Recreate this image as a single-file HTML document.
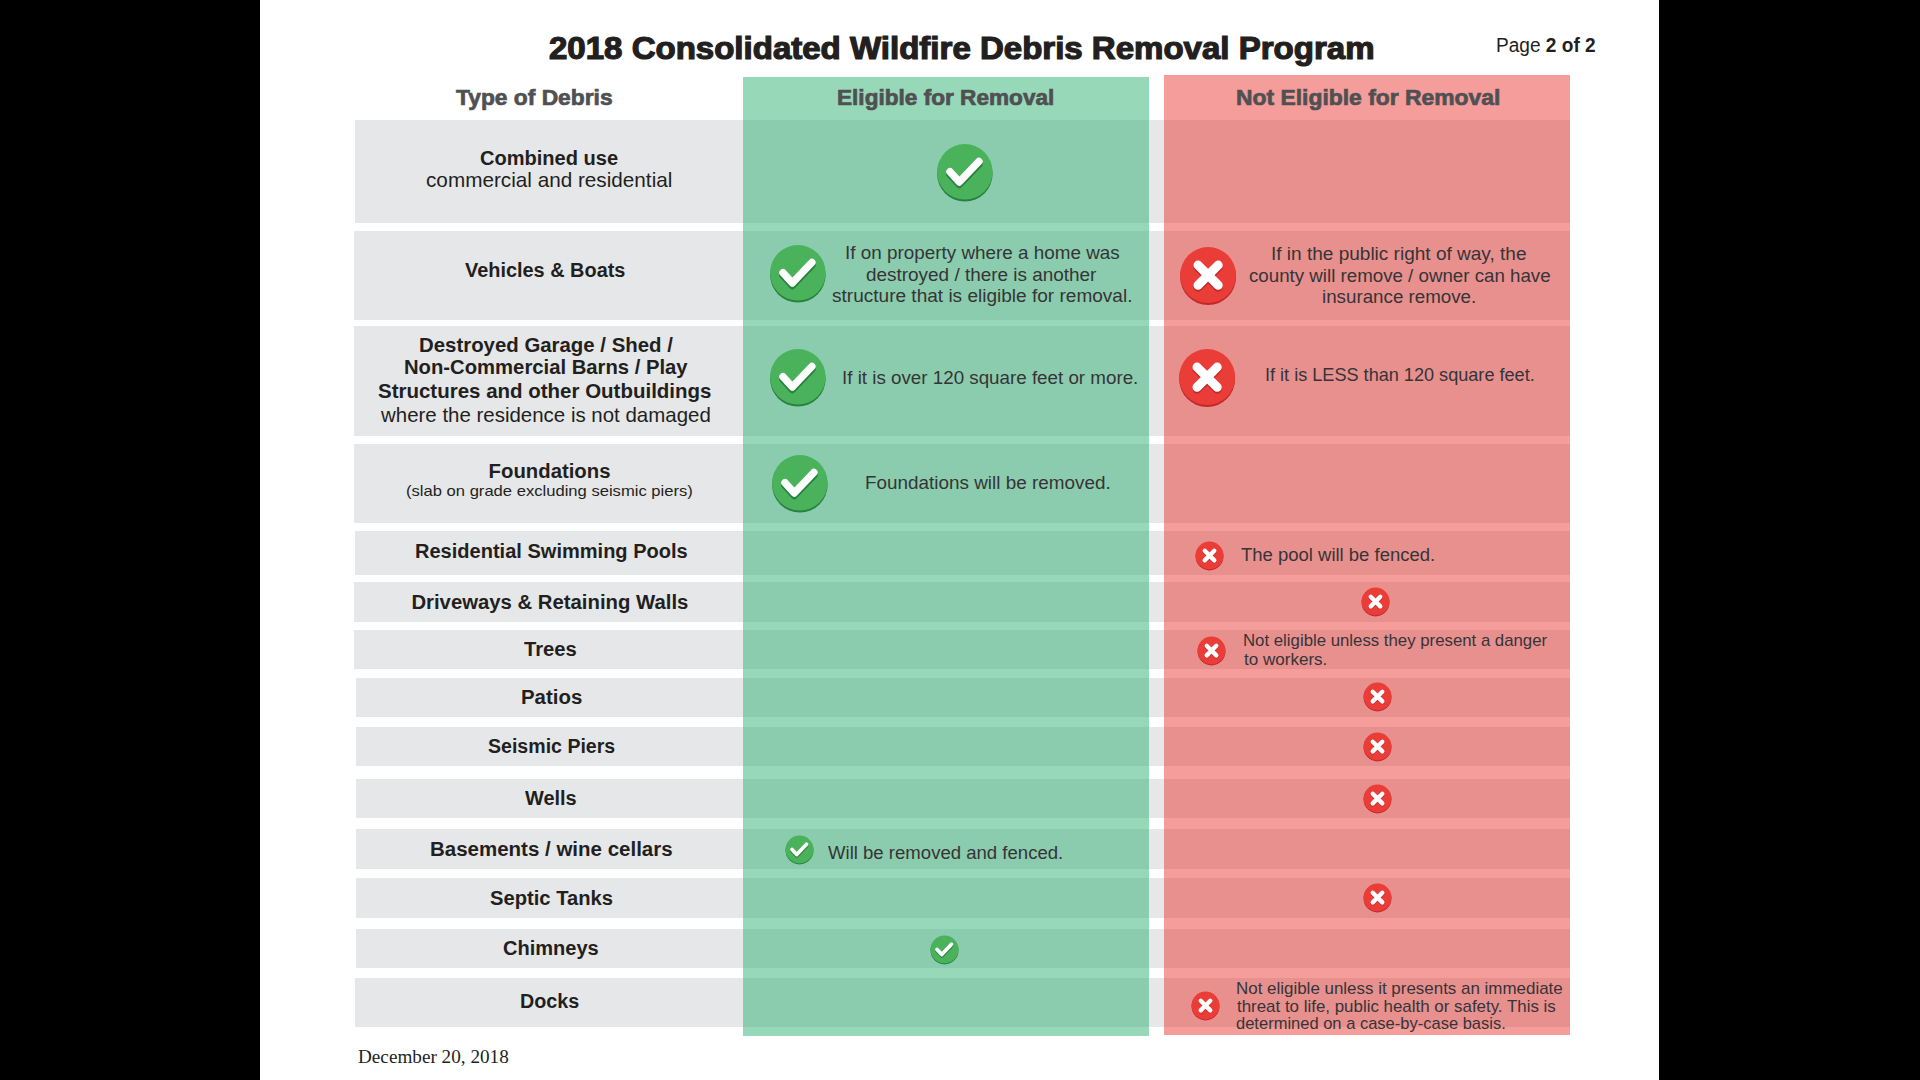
<!DOCTYPE html>
<html><head><meta charset="utf-8"><title>2018 Consolidated Wildfire Debris Removal Program</title>
<style>
html,body{margin:0;padding:0;width:1920px;height:1080px;overflow:hidden;background:#000;}
.t{position:absolute;white-space:nowrap;line-height:0;transform-origin:0 0;}

</style></head><body>
<div style="position:absolute;left:260px;top:0;width:1399px;height:1080px;background:#fff"></div>
<div style="position:absolute;left:355px;top:120px;width:1215px;height:103.00px;background:#e6e7e8"></div>
<div style="position:absolute;left:353.5px;top:231px;width:1216.5px;height:89.00px;background:#e6e7e8"></div>
<div style="position:absolute;left:353.5px;top:325.5px;width:1216.5px;height:110.00px;background:#e6e7e8"></div>
<div style="position:absolute;left:353.5px;top:444px;width:1216.5px;height:79.00px;background:#e6e7e8"></div>
<div style="position:absolute;left:355px;top:531px;width:1215px;height:44.00px;background:#e6e7e8"></div>
<div style="position:absolute;left:353.5px;top:582px;width:1216.5px;height:39.50px;background:#e6e7e8"></div>
<div style="position:absolute;left:353.5px;top:629.5px;width:1216.5px;height:39.80px;background:#e6e7e8"></div>
<div style="position:absolute;left:356px;top:677.5px;width:1214px;height:39.50px;background:#e6e7e8"></div>
<div style="position:absolute;left:356px;top:726.7px;width:1214px;height:39.50px;background:#e6e7e8"></div>
<div style="position:absolute;left:356px;top:778.5px;width:1214px;height:39.50px;background:#e6e7e8"></div>
<div style="position:absolute;left:356px;top:829px;width:1214px;height:39.50px;background:#e6e7e8"></div>
<div style="position:absolute;left:356px;top:878px;width:1214px;height:40.00px;background:#e6e7e8"></div>
<div style="position:absolute;left:356px;top:928.7px;width:1214px;height:39.30px;background:#e6e7e8"></div>
<div style="position:absolute;left:355px;top:978px;width:1215px;height:49.00px;background:#e6e7e8"></div>
<div style="position:absolute;left:743px;top:77px;width:406px;height:959px;background:rgba(51,179,117,0.514)"></div>
<div style="position:absolute;left:1164px;top:74.5px;width:406px;height:960px;background:rgba(234,51,43,0.48)"></div>
<svg style="position:absolute;left:935.54px;top:142.54px" width="57.72" height="59.94" viewBox="-52 -52 104 108"><circle cx="0" cy="3.5" r="50" fill="#27823f"/><circle cx="0" cy="0" r="50" fill="#49b25a"/><path d="M-26.8 -0.4 L-10 18.2 L25.2 -18.6" fill="none" stroke="#27823f" stroke-width="13.4" stroke-linecap="round" stroke-linejoin="round" transform="translate(0,4.6)"/><path d="M-26.8 -0.4 L-10 18.2 L25.2 -18.6" fill="none" stroke="#fff" stroke-width="13.4" stroke-linecap="round" stroke-linejoin="round"/></svg>
<svg style="position:absolute;left:769.44px;top:244.34px" width="57.72" height="59.94" viewBox="-52 -52 104 108"><circle cx="0" cy="3.5" r="50" fill="#27823f"/><circle cx="0" cy="0" r="50" fill="#49b25a"/><path d="M-26.8 -0.4 L-10 18.2 L25.2 -18.6" fill="none" stroke="#27823f" stroke-width="13.4" stroke-linecap="round" stroke-linejoin="round" transform="translate(0,4.6)"/><path d="M-26.8 -0.4 L-10 18.2 L25.2 -18.6" fill="none" stroke="#fff" stroke-width="13.4" stroke-linecap="round" stroke-linejoin="round"/></svg>
<svg style="position:absolute;left:769.44px;top:348.14px" width="57.72" height="59.94" viewBox="-52 -52 104 108"><circle cx="0" cy="3.5" r="50" fill="#27823f"/><circle cx="0" cy="0" r="50" fill="#49b25a"/><path d="M-26.8 -0.4 L-10 18.2 L25.2 -18.6" fill="none" stroke="#27823f" stroke-width="13.4" stroke-linecap="round" stroke-linejoin="round" transform="translate(0,4.6)"/><path d="M-26.8 -0.4 L-10 18.2 L25.2 -18.6" fill="none" stroke="#fff" stroke-width="13.4" stroke-linecap="round" stroke-linejoin="round"/></svg>
<svg style="position:absolute;left:770.74px;top:453.84px" width="57.72" height="59.94" viewBox="-52 -52 104 108"><circle cx="0" cy="3.5" r="50" fill="#27823f"/><circle cx="0" cy="0" r="50" fill="#49b25a"/><path d="M-26.8 -0.4 L-10 18.2 L25.2 -18.6" fill="none" stroke="#27823f" stroke-width="13.4" stroke-linecap="round" stroke-linejoin="round" transform="translate(0,4.6)"/><path d="M-26.8 -0.4 L-10 18.2 L25.2 -18.6" fill="none" stroke="#fff" stroke-width="13.4" stroke-linecap="round" stroke-linejoin="round"/></svg>
<svg style="position:absolute;left:1178.58px;top:246.08px" width="58.24" height="60.48" viewBox="-52 -52 104 108"><circle cx="0" cy="3.5" r="50" fill="#c2272b"/><circle cx="0" cy="0" r="50" fill="#ea3d38"/><path d="M-18.0 -17.8 L18.0 18.2 M18.0 -17.8 L-18.0 18.2" fill="none" stroke="#c2272b" stroke-width="16.2" stroke-linecap="round" transform="translate(0,3.2)"/><path d="M-18.0 -17.8 L18.0 18.2 M18.0 -17.8 L-18.0 18.2" fill="none" stroke="#fff" stroke-width="16.2" stroke-linecap="round"/></svg>
<svg style="position:absolute;left:1178.38px;top:347.68px" width="58.24" height="60.48" viewBox="-52 -52 104 108"><circle cx="0" cy="3.5" r="50" fill="#c2272b"/><circle cx="0" cy="0" r="50" fill="#ea3d38"/><path d="M-18.0 -17.8 L18.0 18.2 M18.0 -17.8 L-18.0 18.2" fill="none" stroke="#c2272b" stroke-width="16.2" stroke-linecap="round" transform="translate(0,3.2)"/><path d="M-18.0 -17.8 L18.0 18.2 M18.0 -17.8 L-18.0 18.2" fill="none" stroke="#fff" stroke-width="16.2" stroke-linecap="round"/></svg>
<svg style="position:absolute;left:1195.09px;top:541.39px" width="29.02" height="30.13" viewBox="-52 -52 104 108"><circle cx="0" cy="3.5" r="50" fill="#c2272b"/><circle cx="0" cy="0" r="50" fill="#ea3d38"/><path d="M-17.2 -17.0 L17.2 17.4 M17.2 -17.0 L-17.2 17.4" fill="none" stroke="#c2272b" stroke-width="15.5" stroke-linecap="round" transform="translate(0,3.2)"/><path d="M-17.2 -17.0 L17.2 17.4 M17.2 -17.0 L-17.2 17.4" fill="none" stroke="#fff" stroke-width="15.5" stroke-linecap="round"/></svg>
<svg style="position:absolute;left:1361.49px;top:587.24px" width="29.02" height="30.13" viewBox="-52 -52 104 108"><circle cx="0" cy="3.5" r="50" fill="#c2272b"/><circle cx="0" cy="0" r="50" fill="#ea3d38"/><path d="M-17.2 -17.0 L17.2 17.4 M17.2 -17.0 L-17.2 17.4" fill="none" stroke="#c2272b" stroke-width="15.5" stroke-linecap="round" transform="translate(0,3.2)"/><path d="M-17.2 -17.0 L17.2 17.4 M17.2 -17.0 L-17.2 17.4" fill="none" stroke="#fff" stroke-width="15.5" stroke-linecap="round"/></svg>
<svg style="position:absolute;left:1197.29px;top:635.89px" width="29.02" height="30.13" viewBox="-52 -52 104 108"><circle cx="0" cy="3.5" r="50" fill="#c2272b"/><circle cx="0" cy="0" r="50" fill="#ea3d38"/><path d="M-17.2 -17.0 L17.2 17.4 M17.2 -17.0 L-17.2 17.4" fill="none" stroke="#c2272b" stroke-width="15.5" stroke-linecap="round" transform="translate(0,3.2)"/><path d="M-17.2 -17.0 L17.2 17.4 M17.2 -17.0 L-17.2 17.4" fill="none" stroke="#fff" stroke-width="15.5" stroke-linecap="round"/></svg>
<svg style="position:absolute;left:1363.14px;top:681.94px" width="29.02" height="30.13" viewBox="-52 -52 104 108"><circle cx="0" cy="3.5" r="50" fill="#c2272b"/><circle cx="0" cy="0" r="50" fill="#ea3d38"/><path d="M-17.2 -17.0 L17.2 17.4 M17.2 -17.0 L-17.2 17.4" fill="none" stroke="#c2272b" stroke-width="15.5" stroke-linecap="round" transform="translate(0,3.2)"/><path d="M-17.2 -17.0 L17.2 17.4 M17.2 -17.0 L-17.2 17.4" fill="none" stroke="#fff" stroke-width="15.5" stroke-linecap="round"/></svg>
<svg style="position:absolute;left:1363.49px;top:731.64px" width="29.02" height="30.13" viewBox="-52 -52 104 108"><circle cx="0" cy="3.5" r="50" fill="#c2272b"/><circle cx="0" cy="0" r="50" fill="#ea3d38"/><path d="M-17.2 -17.0 L17.2 17.4 M17.2 -17.0 L-17.2 17.4" fill="none" stroke="#c2272b" stroke-width="15.5" stroke-linecap="round" transform="translate(0,3.2)"/><path d="M-17.2 -17.0 L17.2 17.4 M17.2 -17.0 L-17.2 17.4" fill="none" stroke="#fff" stroke-width="15.5" stroke-linecap="round"/></svg>
<svg style="position:absolute;left:1362.89px;top:783.54px" width="29.02" height="30.13" viewBox="-52 -52 104 108"><circle cx="0" cy="3.5" r="50" fill="#c2272b"/><circle cx="0" cy="0" r="50" fill="#ea3d38"/><path d="M-17.2 -17.0 L17.2 17.4 M17.2 -17.0 L-17.2 17.4" fill="none" stroke="#c2272b" stroke-width="15.5" stroke-linecap="round" transform="translate(0,3.2)"/><path d="M-17.2 -17.0 L17.2 17.4 M17.2 -17.0 L-17.2 17.4" fill="none" stroke="#fff" stroke-width="15.5" stroke-linecap="round"/></svg>
<svg style="position:absolute;left:1363.29px;top:883.04px" width="29.02" height="30.13" viewBox="-52 -52 104 108"><circle cx="0" cy="3.5" r="50" fill="#c2272b"/><circle cx="0" cy="0" r="50" fill="#ea3d38"/><path d="M-17.2 -17.0 L17.2 17.4 M17.2 -17.0 L-17.2 17.4" fill="none" stroke="#c2272b" stroke-width="15.5" stroke-linecap="round" transform="translate(0,3.2)"/><path d="M-17.2 -17.0 L17.2 17.4 M17.2 -17.0 L-17.2 17.4" fill="none" stroke="#fff" stroke-width="15.5" stroke-linecap="round"/></svg>
<svg style="position:absolute;left:1190.89px;top:991.34px" width="29.02" height="30.13" viewBox="-52 -52 104 108"><circle cx="0" cy="3.5" r="50" fill="#c2272b"/><circle cx="0" cy="0" r="50" fill="#ea3d38"/><path d="M-17.2 -17.0 L17.2 17.4 M17.2 -17.0 L-17.2 17.4" fill="none" stroke="#c2272b" stroke-width="15.5" stroke-linecap="round" transform="translate(0,3.2)"/><path d="M-17.2 -17.0 L17.2 17.4 M17.2 -17.0 L-17.2 17.4" fill="none" stroke="#fff" stroke-width="15.5" stroke-linecap="round"/></svg>
<svg style="position:absolute;left:784.79px;top:834.99px" width="29.02" height="30.13" viewBox="-52 -52 104 108"><circle cx="0" cy="3.5" r="50" fill="#27823f"/><circle cx="0" cy="0" r="50" fill="#49b25a"/><path d="M-26.8 -0.4 L-10 18.2 L25.2 -18.6" fill="none" stroke="#27823f" stroke-width="13.4" stroke-linecap="round" stroke-linejoin="round" transform="translate(0,4.6)"/><path d="M-26.8 -0.4 L-10 18.2 L25.2 -18.6" fill="none" stroke="#fff" stroke-width="13.4" stroke-linecap="round" stroke-linejoin="round"/></svg>
<svg style="position:absolute;left:929.59px;top:934.59px" width="29.02" height="30.13" viewBox="-52 -52 104 108"><circle cx="0" cy="3.5" r="50" fill="#27823f"/><circle cx="0" cy="0" r="50" fill="#49b25a"/><path d="M-26.8 -0.4 L-10 18.2 L25.2 -18.6" fill="none" stroke="#27823f" stroke-width="13.4" stroke-linecap="round" stroke-linejoin="round" transform="translate(0,4.6)"/><path d="M-26.8 -0.4 L-10 18.2 L25.2 -18.6" fill="none" stroke="#fff" stroke-width="13.4" stroke-linecap="round" stroke-linejoin="round"/></svg>
<div class="t" style="left:548.80px;top:49.00px;font-size:30.87px;font-family:'Liberation Sans';font-weight:bold;color:#231f20;-webkit-text-stroke:1.2px #231f20;transform:scaleX(1.0701)">2018 Consolidated Wildfire Debris Removal Program</div>
<div class="t" style="left:456.00px;top:98.00px;font-size:21.96px;font-family:'Liberation Sans';font-weight:bold;color:#505053;-webkit-text-stroke:0.7px #505053;transform:scaleX(1.0380)">Type of Debris</div>
<div class="t" style="left:836.80px;top:98.00px;font-size:21.96px;font-family:'Liberation Sans';font-weight:bold;color:#505053;-webkit-text-stroke:0.7px #505053;transform:scaleX(1.0297)">Eligible for Removal</div>
<div class="t" style="left:1235.60px;top:98.00px;font-size:21.96px;font-family:'Liberation Sans';font-weight:bold;color:#505053;-webkit-text-stroke:0.7px #505053;transform:scaleX(1.0418)">Not Eligible for Removal</div>
<div class="t" style="left:480.30px;top:158.00px;font-size:20.32px;font-family:'Liberation Sans';font-weight:bold;color:#231f20;transform:scaleX(0.9870)">Combined use</div>
<div class="t" style="left:426.20px;top:180.00px;font-size:20.23px;font-family:'Liberation Sans';font-weight:normal;color:#231f20;transform:scaleX(1.0244)">commercial and residential</div>
<div class="t" style="left:465.00px;top:270.00px;font-size:20.32px;font-family:'Liberation Sans';font-weight:bold;color:#231f20;transform:scaleX(0.9798)">Vehicles &amp; Boats</div>
<div class="t" style="left:418.60px;top:345.00px;font-size:19.47px;font-family:'Liberation Sans';font-weight:bold;color:#231f20;transform:scaleX(1.0481)">Destroyed Garage / Shed /</div>
<div class="t" style="left:403.60px;top:367.00px;font-size:19.47px;font-family:'Liberation Sans';font-weight:bold;color:#231f20;transform:scaleX(1.0410)">Non-Commercial Barns / Play</div>
<div class="t" style="left:378.30px;top:391.00px;font-size:19.47px;font-family:'Liberation Sans';font-weight:bold;color:#231f20;transform:scaleX(1.0530)">Structures and other Outbuildings</div>
<div class="t" style="left:381.20px;top:415.00px;font-size:20.23px;font-family:'Liberation Sans';font-weight:normal;color:#231f20;transform:scaleX(1.0117)">where the residence is not damaged</div>
<div class="t" style="left:488.60px;top:471.00px;font-size:20.32px;font-family:'Liberation Sans';font-weight:bold;color:#231f20;transform:scaleX(1.0000)">Foundations</div>
<div class="t" style="left:405.80px;top:491.00px;font-size:14.3px;font-family:'Liberation Sans';font-weight:normal;color:#231f20;transform:scaleX(1.1604)">(slab on grade excluding seismic piers)</div>
<div class="t" style="left:414.50px;top:551.00px;font-size:20.32px;font-family:'Liberation Sans';font-weight:bold;color:#231f20;transform:scaleX(0.9862)">Residential Swimming Pools</div>
<div class="t" style="left:411.40px;top:602.00px;font-size:20.32px;font-family:'Liberation Sans';font-weight:bold;color:#231f20;transform:scaleX(1.0000)">Driveways &amp; Retaining Walls</div>
<div class="t" style="left:523.60px;top:649.00px;font-size:20.32px;font-family:'Liberation Sans';font-weight:bold;color:#231f20;transform:scaleX(0.9942)">Trees</div>
<div class="t" style="left:520.60px;top:697.00px;font-size:20.32px;font-family:'Liberation Sans';font-weight:bold;color:#231f20;transform:scaleX(1.0051)">Patios</div>
<div class="t" style="left:487.70px;top:746.00px;font-size:20.32px;font-family:'Liberation Sans';font-weight:bold;color:#231f20;transform:scaleX(0.9631)">Seismic Piers</div>
<div class="t" style="left:525.40px;top:798.00px;font-size:20.32px;font-family:'Liberation Sans';font-weight:bold;color:#231f20;transform:scaleX(0.9808)">Wells</div>
<div class="t" style="left:430.10px;top:849.00px;font-size:20.32px;font-family:'Liberation Sans';font-weight:bold;color:#231f20;transform:scaleX(1.0088)">Basements / wine cellars</div>
<div class="t" style="left:489.60px;top:898.00px;font-size:20.32px;font-family:'Liberation Sans';font-weight:bold;color:#231f20;transform:scaleX(0.9935)">Septic Tanks</div>
<div class="t" style="left:503.30px;top:948.00px;font-size:20.32px;font-family:'Liberation Sans';font-weight:bold;color:#231f20;transform:scaleX(0.9863)">Chimneys</div>
<div class="t" style="left:520.40px;top:1001.00px;font-size:20.32px;font-family:'Liberation Sans';font-weight:bold;color:#231f20;transform:scaleX(0.9712)">Docks</div>
<div class="t" style="left:844.70px;top:253.00px;font-size:18.23px;font-family:'Liberation Sans';font-weight:normal;color:#363437;transform:scaleX(1.0354)">If on property where a home was</div>
<div class="t" style="left:866.40px;top:275.00px;font-size:18.23px;font-family:'Liberation Sans';font-weight:normal;color:#363437;transform:scaleX(1.0389)">destroyed / there is another</div>
<div class="t" style="left:832.30px;top:296.00px;font-size:18.23px;font-family:'Liberation Sans';font-weight:normal;color:#363437;transform:scaleX(1.0449)">structure that is eligible for removal.</div>
<div class="t" style="left:842.00px;top:378.00px;font-size:18.23px;font-family:'Liberation Sans';font-weight:normal;color:#363437;transform:scaleX(1.0303)">If it is over 120 square feet or more.</div>
<div class="t" style="left:865.20px;top:483.00px;font-size:18.23px;font-family:'Liberation Sans';font-weight:normal;color:#363437;transform:scaleX(1.0366)">Foundations will be removed.</div>
<div class="t" style="left:827.50px;top:853.00px;font-size:18.23px;font-family:'Liberation Sans';font-weight:normal;color:#363437;transform:scaleX(1.0188)">Will be removed and fenced.</div>
<div class="t" style="left:1271.30px;top:254.00px;font-size:18.23px;font-family:'Liberation Sans';font-weight:normal;color:#363437;transform:scaleX(1.0438)">If in the public right of way, the</div>
<div class="t" style="left:1248.70px;top:276.00px;font-size:18.23px;font-family:'Liberation Sans';font-weight:normal;color:#363437;transform:scaleX(1.0271)">county will remove / owner can have</div>
<div class="t" style="left:1322.30px;top:297.00px;font-size:18.23px;font-family:'Liberation Sans';font-weight:normal;color:#363437;transform:scaleX(1.0293)">insurance remove.</div>
<div class="t" style="left:1265.10px;top:375.00px;font-size:18.23px;font-family:'Liberation Sans';font-weight:normal;color:#363437;transform:scaleX(0.9937)">If it is LESS than 120 square feet.</div>
<div class="t" style="left:1240.80px;top:555.00px;font-size:18.23px;font-family:'Liberation Sans';font-weight:normal;color:#363437;transform:scaleX(1.0142)">The pool will be fenced.</div>
<div class="t" style="left:1242.60px;top:641.00px;font-size:15.76px;font-family:'Liberation Sans';font-weight:normal;color:#363437;transform:scaleX(1.0655)">Not eligible unless they present a danger</div>
<div class="t" style="left:1243.60px;top:660.00px;font-size:15.76px;font-family:'Liberation Sans';font-weight:normal;color:#363437;transform:scaleX(1.0816)">to workers.</div>
<div class="t" style="left:1236.10px;top:989.00px;font-size:15.76px;font-family:'Liberation Sans';font-weight:normal;color:#363437;transform:scaleX(1.0755)">Not eligible unless it presents an immediate</div>
<div class="t" style="left:1237.10px;top:1007.00px;font-size:15.76px;font-family:'Liberation Sans';font-weight:normal;color:#363437;transform:scaleX(1.0731)">threat to life, public health or safety. This is</div>
<div class="t" style="left:1236.10px;top:1024.00px;font-size:15.76px;font-family:'Liberation Sans';font-weight:normal;color:#363437;transform:scaleX(1.0482)">determined on a case-by-case basis.</div>
<div class="t" style="left:1495.50px;top:45.00px;font-size:20.58px;font-family:'Liberation Sans';font-weight:normal;color:#231f20;transform:scaleX(0.9267)">Page <b>2 of 2</b></div>
<div class="t" style="left:358.10px;top:1056.00px;font-size:19.69px;font-family:'Liberation Serif';font-weight:normal;color:#231f20;transform:scaleX(0.9745)">December 20, 2018</div>
</body></html>
